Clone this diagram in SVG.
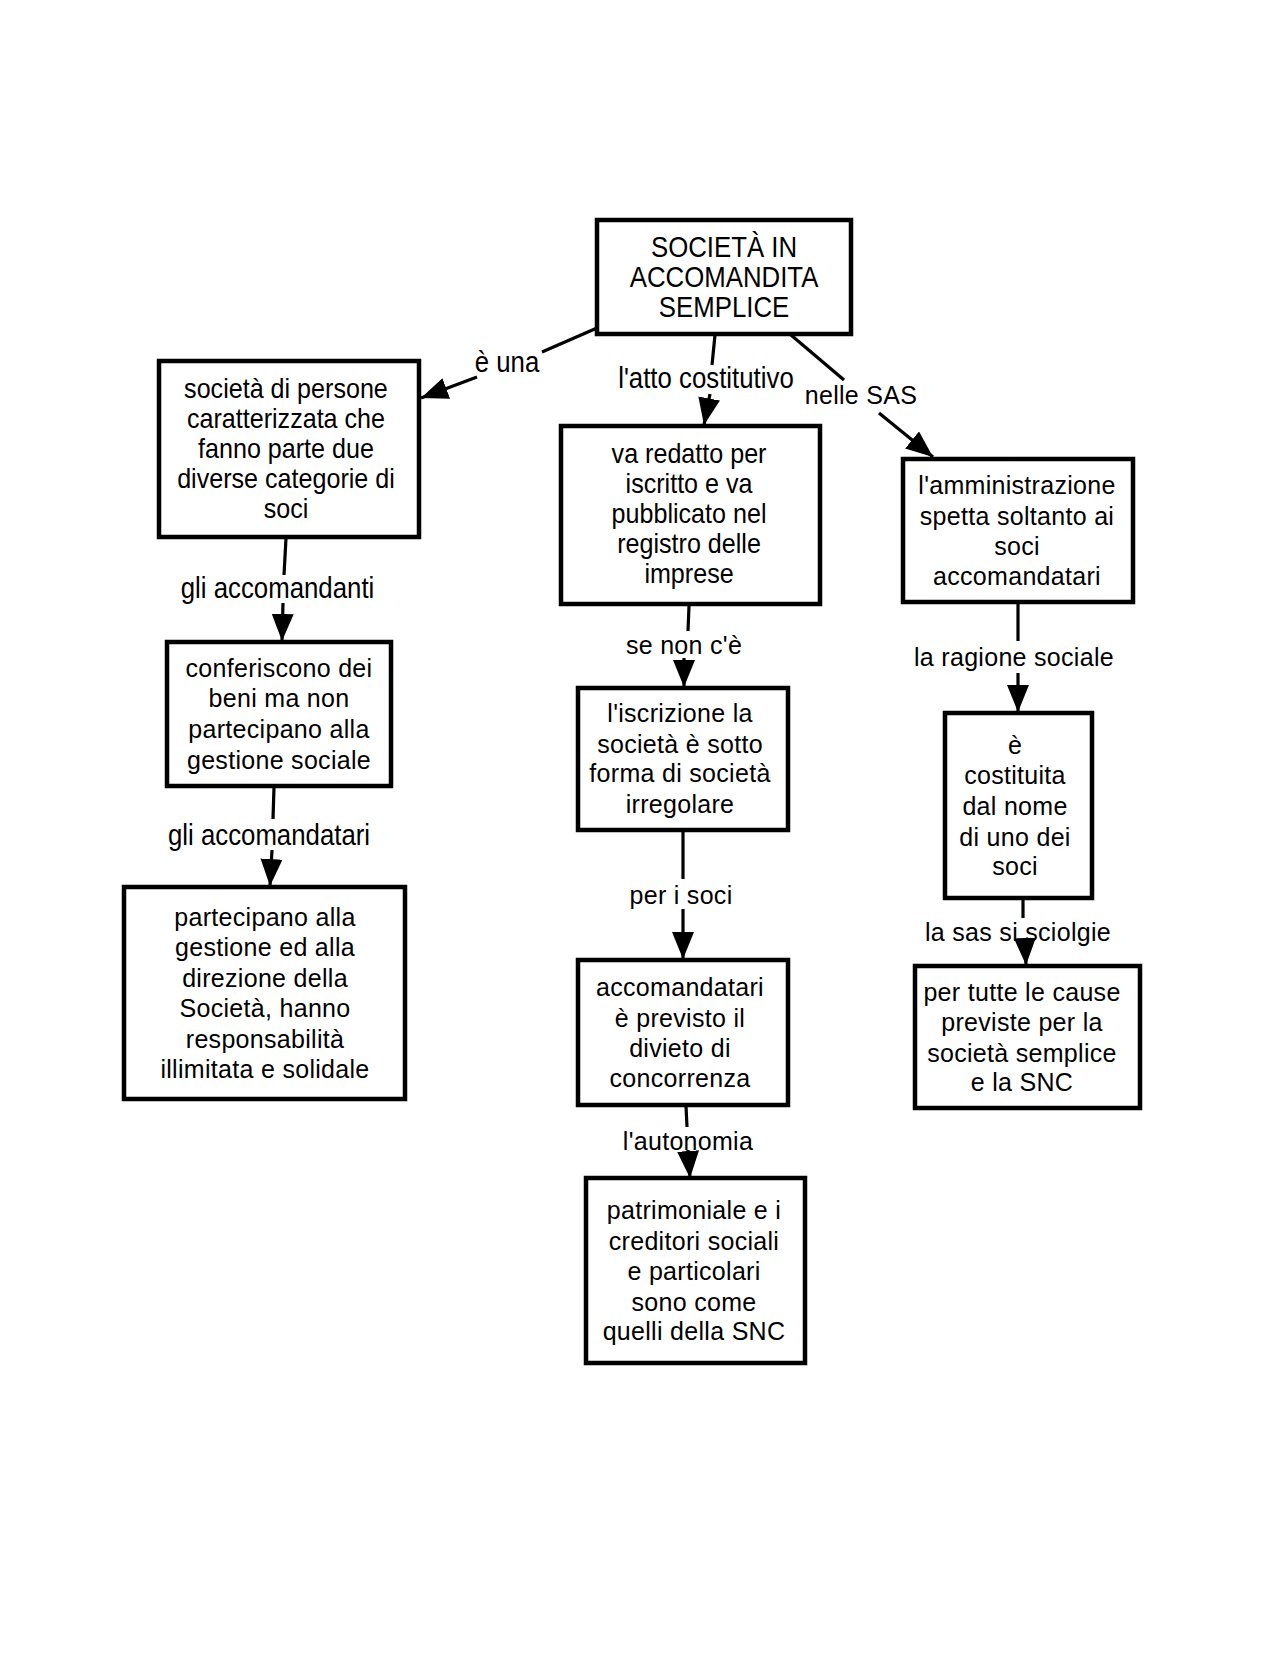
<svg xmlns="http://www.w3.org/2000/svg" width="1280" height="1656" viewBox="0 0 1280 1656">
<style>
.box{fill:#fff;stroke:#000;stroke-width:4.5}
.n{font-family:"Liberation Sans",Arial,sans-serif;font-size:30px;fill:#000;text-anchor:middle}
.m{font-family:"Liberation Sans",Arial,sans-serif;font-size:27px;fill:#000;text-anchor:middle}
.w{font-family:"Liberation Sans",Arial,sans-serif;font-size:25px;letter-spacing:0.3px;fill:#000;text-anchor:middle}
.c{fill:none;stroke:#000;stroke-width:3.2}
</style>
<defs>
<marker id="ah" markerUnits="userSpaceOnUse" markerWidth="28" markerHeight="23" refX="27" refY="11" orient="auto">
<path d="M0,0 L27,11 L0,22 z" fill="#000"/>
</marker>
</defs>
<rect width="1280" height="1656" fill="#fff"/>
<g id="connectors">
<line class="c" x1="597" y1="328" x2="542" y2="352"/>
<line class="c" x1="477" y1="377" x2="421" y2="398" marker-end="url(#ah)"/>
<line class="c" x1="715" y1="335" x2="712" y2="365"/>
<line class="c" x1="710" y1="394" x2="704" y2="425" marker-end="url(#ah)"/>
<line class="c" x1="791" y1="335" x2="844" y2="380"/>
<line class="c" x1="879" y1="413" x2="933" y2="457" marker-end="url(#ah)"/>
<line class="c" x1="286" y1="538" x2="284" y2="575"/>
<line class="c" x1="283" y1="603" x2="282" y2="641" marker-end="url(#ah)"/>
<line class="c" x1="274" y1="787" x2="273" y2="819"/>
<line class="c" x1="272" y1="850" x2="270" y2="886" marker-end="url(#ah)"/>
<line class="c" x1="689" y1="606" x2="688" y2="631"/>
<line class="c" x1="684" y1="658" x2="684" y2="687" marker-end="url(#ah)"/>
<line class="c" x1="683" y1="831" x2="683" y2="879"/>
<line class="c" x1="683" y1="909" x2="683" y2="959" marker-end="url(#ah)"/>
<line class="c" x1="686" y1="1106" x2="687" y2="1127"/>
<line class="c" x1="688" y1="1150" x2="690" y2="1178" marker-end="url(#ah)"/>
<line class="c" x1="1018" y1="604" x2="1018" y2="641"/>
<line class="c" x1="1018" y1="673" x2="1018" y2="712" marker-end="url(#ah)"/>
<line class="c" x1="1023" y1="899" x2="1023" y2="918"/>
<line class="c" x1="1025" y1="939" x2="1026" y2="965" marker-end="url(#ah)"/>
<text class="n" transform="scale(0.86,1)" x="589.5" y="372">è una</text>
<text class="n" transform="scale(0.86,1)" x="820.9" y="388">l'atto costitutivo</text>
<text class="w" x="861" y="404">nelle SAS</text>
<text class="n" transform="scale(0.86,1)" x="322.7" y="598">gli accomandanti</text>
<text class="n" transform="scale(0.86,1)" x="312.8" y="845">gli accomandatari</text>
<text class="w" x="684" y="654">se non c'è</text>
<text class="w" x="681" y="904">per i soci</text>
<text class="w" x="688" y="1150">l'autonomia</text>
<text class="w" x="1014" y="666">la ragione sociale</text>
<text class="w" x="1018" y="941">la sas si sciolgie</text>
</g>
<g id="root">
<rect class="box" x="597" y="220" width="254" height="114"/>
<text class="n" transform="scale(0.86,1)" x="841.9" y="257">SOCIETÀ IN</text>
<text class="n" transform="scale(0.86,1)" x="841.9" y="287">ACCOMANDITA</text>
<text class="n" transform="scale(0.86,1)" x="841.9" y="317">SEMPLICE</text>
</g>
<g id="n-societa-persone">
<rect class="box" x="159" y="361" width="260" height="176"/>
<text class="m" transform="scale(0.93,1)" x="307.5" y="398">società  di persone</text>
<text class="m" transform="scale(0.93,1)" x="307.5" y="428">caratterizzata che</text>
<text class="m" transform="scale(0.93,1)" x="307.5" y="458">fanno parte due</text>
<text class="m" transform="scale(0.93,1)" x="307.5" y="488">diverse categorie di</text>
<text class="m" transform="scale(0.93,1)" x="307.5" y="518">soci</text>
</g>
<g id="n-atto">
<rect class="box" x="561" y="426" width="259" height="178"/>
<text class="m" transform="scale(0.93,1)" x="740.9" y="463">va redatto per</text>
<text class="m" transform="scale(0.93,1)" x="740.9" y="493">iscritto e va</text>
<text class="m" transform="scale(0.93,1)" x="740.9" y="523">pubblicato nel</text>
<text class="m" transform="scale(0.93,1)" x="740.9" y="553">registro delle</text>
<text class="m" transform="scale(0.93,1)" x="740.9" y="583">imprese</text>
</g>
<g id="n-amministrazione">
<rect class="box" x="903" y="459" width="230" height="143"/>
<text class="w" x="1017" y="494">l'amministrazione</text>
<text class="w" x="1017" y="525">spetta soltanto ai</text>
<text class="w" x="1017" y="555">soci</text>
<text class="w" x="1017" y="585">accomandatari</text>
</g>
<g id="n-conferiscono">
<rect class="box" x="167" y="642" width="224" height="144"/>
<text class="w" x="279" y="677">conferiscono  dei</text>
<text class="w" x="279" y="707">beni ma non</text>
<text class="w" x="279" y="738">partecipano alla</text>
<text class="w" x="279" y="769">gestione  sociale</text>
</g>
<g id="n-partecipano">
<rect class="box" x="124" y="887" width="281" height="212"/>
<text class="w" x="265" y="926">partecipano alla</text>
<text class="w" x="265" y="956">gestione ed alla</text>
<text class="w" x="265" y="987">direzione della</text>
<text class="w" x="265" y="1017">Società,  hanno</text>
<text class="w" x="265" y="1048">responsabilità</text>
<text class="w" x="265" y="1078">illimitata e solidale</text>
</g>
<g id="n-iscrizione">
<rect class="box" x="578" y="688" width="210" height="142"/>
<text class="w" x="680" y="722">l'iscrizione la</text>
<text class="w" x="680" y="753">società  è sotto</text>
<text class="w" x="680" y="782">forma di società</text>
<text class="w" x="680" y="813">irregolare</text>
</g>
<g id="n-accomandatari">
<rect class="box" x="578" y="960" width="210" height="145"/>
<text class="w" x="680" y="996">accomandatari</text>
<text class="w" x="680" y="1027">è previsto il</text>
<text class="w" x="680" y="1057">divieto di</text>
<text class="w" x="680" y="1087">concorrenza</text>
</g>
<g id="n-patrimoniale">
<rect class="box" x="586" y="1178" width="219" height="185"/>
<text class="w" x="694" y="1219">patrimoniale e i</text>
<text class="w" x="694" y="1250">creditori sociali</text>
<text class="w" x="694" y="1280">e particolari</text>
<text class="w" x="694" y="1311">sono come</text>
<text class="w" x="694" y="1340">quelli della SNC</text>
</g>
<g id="n-ragione">
<rect class="box" x="945" y="713" width="147" height="185"/>
<text class="w" x="1015" y="754">è</text>
<text class="w" x="1015" y="784">costituita</text>
<text class="w" x="1015" y="815">dal nome</text>
<text class="w" x="1015" y="846">di uno dei</text>
<text class="w" x="1015" y="875">soci</text>
</g>
<g id="n-cause">
<rect class="box" x="915" y="966" width="225" height="142"/>
<text class="w" x="1022" y="1001">per tutte le cause</text>
<text class="w" x="1022" y="1031">previste per la</text>
<text class="w" x="1022" y="1062">società  semplice</text>
<text class="w" x="1022" y="1091">e la SNC</text>
</g>
</svg>
